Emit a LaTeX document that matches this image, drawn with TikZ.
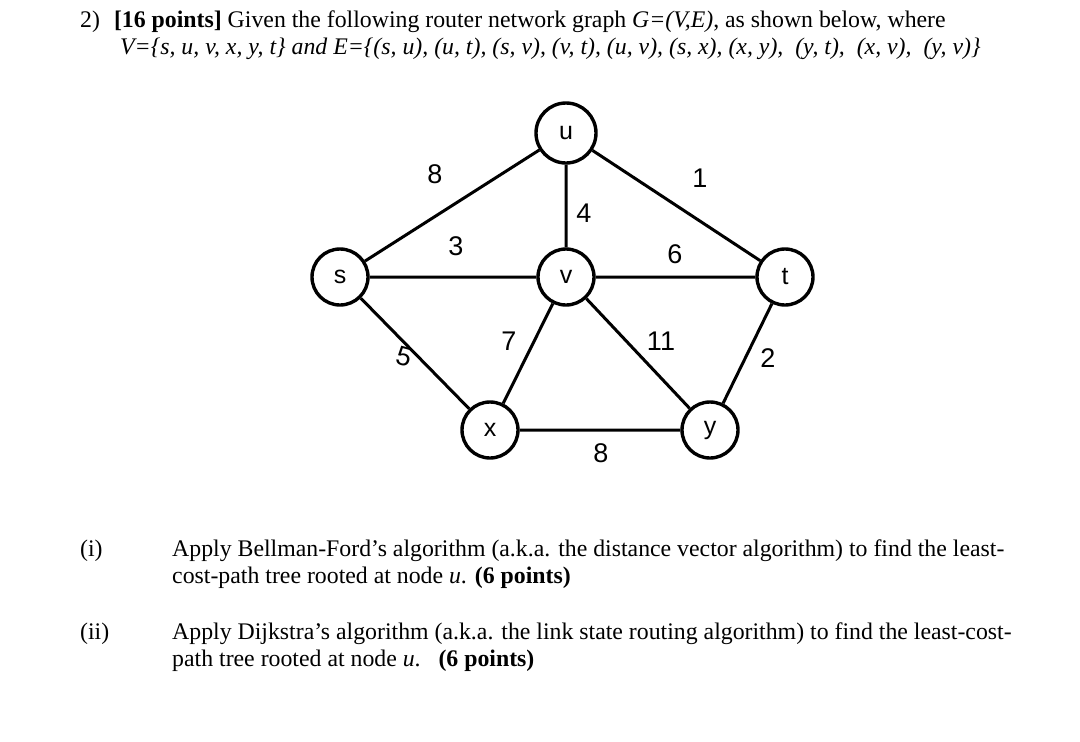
\documentclass[tikz,border=0pt]{standalone}
\usepackage{fontspec}
\setmainfont{Liberation Serif}
\newfontfamily\arialf{Liberation Sans}
\begin{document}
\begin{tikzpicture}[x=1pt,y=-1pt,
  vtx/.style={circle,draw,line width=3.4pt,minimum size=56pt,inner sep=0pt,font=\arialf\fontsize{25}{25}\selectfont},
  edge/.style={line width=3pt},
  wt/.style={font=\arialf\fontsize{27}{27}\selectfont,inner sep=1pt},
  txt/.style={anchor=west,font=\fontsize{23.8}{26}\selectfont,inner sep=0pt}]
\useasboundingbox (0,0) rectangle (1080,742);
\node[vtx,minimum size=60pt] (u) at (566,133) {u};
\node[vtx] (s) at (340,277) {s};
\node[vtx] (v) at (566,277) {v};
\node[vtx] (t) at (785,277) {t};
\node[vtx] (x) at (490,430) {x};
\node[vtx] (y) at (710,430) {y};
\draw[edge] (s)--(u) (u)--(t) (u)--(v) (s)--(v) (v)--(t) (s)--(x) (v)--(x) (v)--(y) (t)--(y) (x)--(y);
\node[wt] (w1) at (435,174) {8};
\node[wt] (w2) at (700,178) {1};
\node[wt] (w3) at (584,213) {4};
\node[wt] (w4) at (456,246) {3};
\node[wt] (w5) at (675,254) {6};
\node[wt,rotate=-15] (w6) at (404,357) {5};
\node[wt] (w7) at (509,341) {7};
\node[wt] (w8) at (661,341) {11};
\node[wt] (w9) at (768,358) {2};
\node[wt] (w10) at (601,453) {8};
\node[txt] (h1) at (80,22) {2)\hspace{14pt}\textbf{[16 points]} Given the following router network graph \textit{G=(V,E)}, as shown below, where};
\node[txt] (h2) at (120,49) {\textit{V=\{s, u, v, x, y, t\} and E=\{(s, u), (u, t), (s, v), (v, t), (u, v), (s, x), (x, y),\ \ (y, t),\ \ (x, v),\ \ (y, v)\}}};
\node[txt] (i1) at (80,551) {(i)};
\node[txt] (i2) at (172,551) {Apply Bellman-Ford's algorithm (a.k.a. the distance vector algorithm) to find the least-};
\node[txt] (i3) at (172,578) {cost-path tree rooted at node \textit{u}. \textbf{(6 points)}};
\node[txt] (j1) at (80,634) {(ii)};
\node[txt] (j2) at (172,634) {Apply Dijkstra's algorithm (a.k.a. the link state routing algorithm) to find the least-cost-};
\node[txt] (j3) at (172,661) {path tree rooted at node \textit{u}.\ \ \ \textbf{(6 points)}};
\end{tikzpicture}
\end{document}
